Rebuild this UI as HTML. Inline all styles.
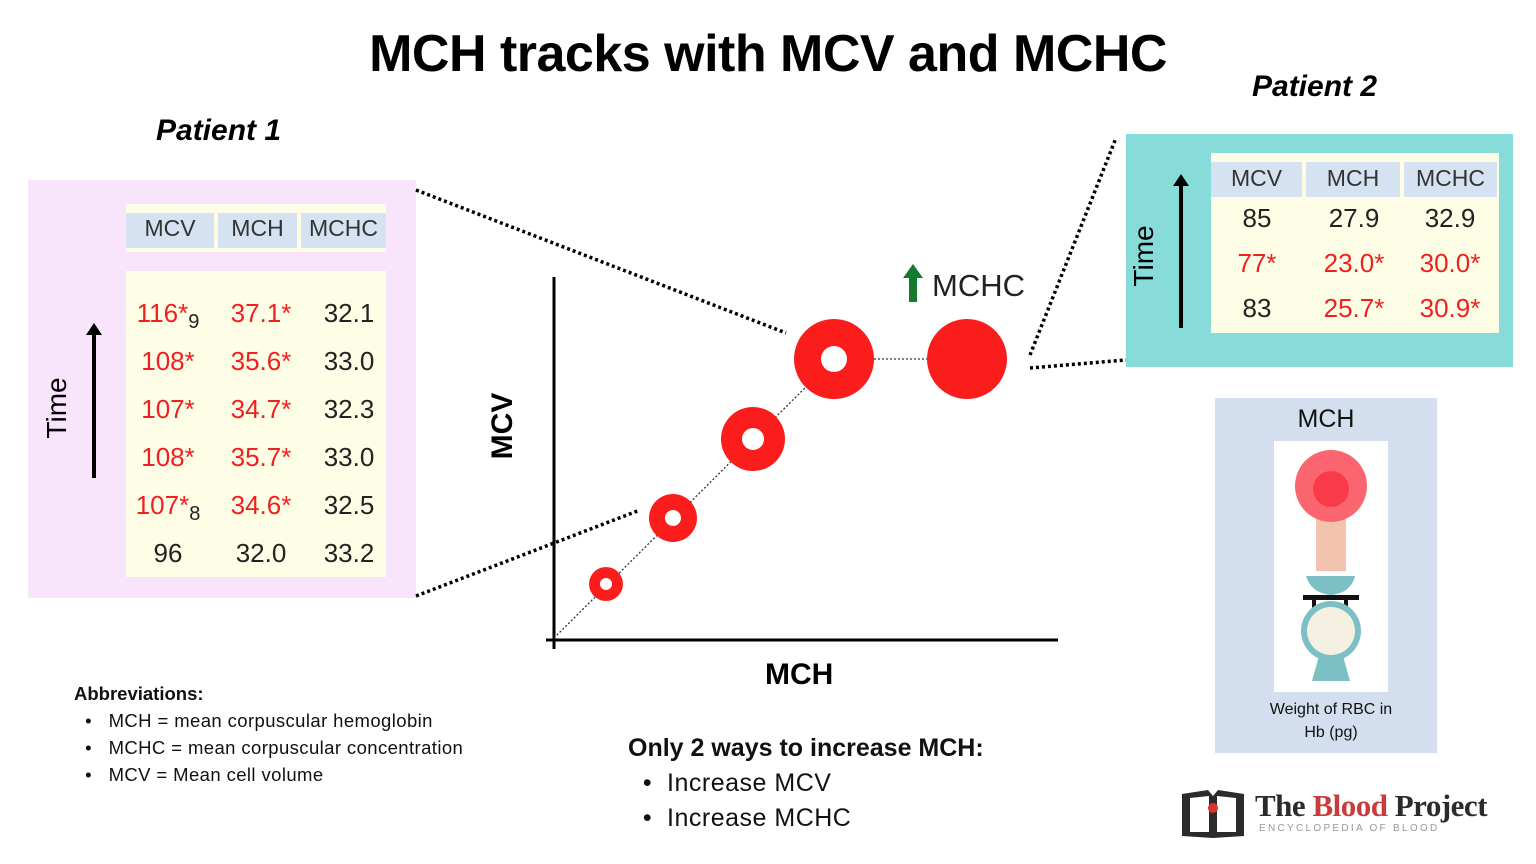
<!DOCTYPE html>
<html><head><meta charset="utf-8"><style>
body{margin:0;width:1536px;height:864px;background:#fff;position:relative;overflow:hidden;font-family:"Liberation Sans",sans-serif}
.a{position:absolute}
.t{position:absolute;font-size:26px;text-align:center;transform:translateX(-50%);white-space:nowrap}
.r{color:#f02020}.k{color:#222}
.h{position:absolute;background:#d5e2f1;font-size:23px;color:#333;text-align:center}
</style></head><body>
<div class="a" style="left:0;width:1536px;top:24px;text-align:center;font-size:52px;font-weight:bold;letter-spacing:-0.5px;">MCH tracks with MCV and MCHC</div>
<div class="a" style="left:156px;top:114px;font-size:30px;font-weight:bold;font-style:italic">Patient 1</div>
<div class="a" style="left:1252px;top:70px;font-size:30px;font-weight:bold;font-style:italic">Patient 2</div>

<div class="a" style="left:28px;top:180px;width:388px;height:418px;background:#f9e5fb"></div>
<div class="a" style="left:126px;top:204px;width:260px;height:48px;background:#fefee6"></div>
<div class="h" style="left:126px;top:213px;width:88px;height:35px;line-height:30px">MCV</div>
<div class="h" style="left:218px;top:213px;width:79px;height:35px;line-height:30px">MCH</div>
<div class="h" style="left:301px;top:213px;width:85px;height:35px;line-height:30px">MCHC</div>
<div class="a" style="left:126px;top:271px;width:260px;height:306px;background:#fefee6"></div>
<div class="a" style="top:408px;font-size:28px;transform:translate(-50%,-50%) rotate(-90deg);left:57px">Time</div>
<div class="a" style="left:92px;top:332px;width:4px;height:146px;background:#000"></div>
<div class="a" style="left:86px;top:323px;width:0;height:0;border-left:8px solid transparent;border-right:8px solid transparent;border-bottom:12px solid #000"></div>

<div class="t r" style="left:168px;top:298px">116*<sub style="color:#222;font-size:20px">9</sub></div>
<div class="t r" style="left:261px;top:298px">37.1*</div><div class="t k" style="left:349px;top:298px">32.1</div>
<div class="t r" style="left:168px;top:346px">108*</div><div class="t r" style="left:261px;top:346px">35.6*</div><div class="t k" style="left:349px;top:346px">33.0</div>
<div class="t r" style="left:168px;top:394px">107*</div><div class="t r" style="left:261px;top:394px">34.7*</div><div class="t k" style="left:349px;top:394px">32.3</div>
<div class="t r" style="left:168px;top:442px">108*</div><div class="t r" style="left:261px;top:442px">35.7*</div><div class="t k" style="left:349px;top:442px">33.0</div>
<div class="t r" style="left:168px;top:490px">107*<sub style="color:#222;font-size:20px">8</sub></div>
<div class="t r" style="left:261px;top:490px">34.6*</div><div class="t k" style="left:349px;top:490px">32.5</div>
<div class="t k" style="left:168px;top:538px">96</div><div class="t k" style="left:261px;top:538px">32.0</div><div class="t k" style="left:349px;top:538px">33.2</div>

<div class="a" style="left:1126px;top:134px;width:387px;height:233px;background:#87dbd8"></div>
<div class="a" style="left:1211px;top:153px;width:288px;height:180px;background:#fefee6"></div>
<div class="h" style="left:1211px;top:162px;width:91px;height:35px;line-height:32px">MCV</div>
<div class="h" style="left:1306px;top:162px;width:94px;height:35px;line-height:32px">MCH</div>
<div class="h" style="left:1404px;top:162px;width:93px;height:35px;line-height:32px">MCHC</div>
<div class="a" style="left:1144px;top:256px;font-size:28px;transform:translate(-50%,-50%) rotate(-90deg)">Time</div>
<div class="a" style="left:1179px;top:184px;width:4px;height:144px;background:#000"></div>
<div class="a" style="left:1173px;top:174px;width:0;height:0;border-left:8px solid transparent;border-right:8px solid transparent;border-bottom:12px solid #000"></div>
<div class="t k" style="left:1257px;top:203px">85</div><div class="t k" style="left:1354px;top:203px">27.9</div><div class="t k" style="left:1450px;top:203px">32.9</div>
<div class="t r" style="left:1257px;top:248px">77*</div><div class="t r" style="left:1354px;top:248px">23.0*</div><div class="t r" style="left:1450px;top:248px">30.0*</div>
<div class="t k" style="left:1257px;top:293px">83</div><div class="t r" style="left:1354px;top:293px">25.7*</div><div class="t r" style="left:1450px;top:293px">30.9*</div>

<svg class="a" style="left:0;top:0" width="1536" height="864">
<g stroke="#000" stroke-width="3.5" stroke-dasharray="3,3" fill="none">
<line x1="416" y1="190" x2="786" y2="333"/><line x1="416" y1="596" x2="640" y2="510"/>
<line x1="1030" y1="355" x2="1116" y2="138"/><line x1="1030" y1="368" x2="1126" y2="360"/>
</g>
<line x1="554" y1="277" x2="554" y2="649" stroke="#000" stroke-width="3"/>
<line x1="546" y1="640" x2="1058" y2="640" stroke="#000" stroke-width="3"/>
<line x1="554" y1="638" x2="834" y2="359" stroke="#333" stroke-width="1.3" stroke-dasharray="2,2"/>
<line x1="874" y1="359" x2="928" y2="359" stroke="#333" stroke-width="1.3" stroke-dasharray="2,2"/>
<circle cx="606" cy="584" r="17" fill="#fb1c1c"/><circle cx="606" cy="584" r="6" fill="#fff"/>
<circle cx="673" cy="518" r="24" fill="#fb1c1c"/><circle cx="673" cy="518" r="8" fill="#fff"/>
<circle cx="753" cy="439" r="32" fill="#fb1c1c"/><circle cx="753" cy="439" r="11" fill="#fff"/>
<circle cx="834" cy="359" r="40" fill="#fb1c1c"/><circle cx="834" cy="359" r="13" fill="#fff"/>
<circle cx="967" cy="359" r="40" fill="#fb1c1c"/>
<polygon points="913,264 903,278 909,278 909,302 917,302 917,278 923,278" fill="#137a2e"/>
</svg>
<div class="a" style="left:932px;top:268px;font-size:31px;color:#222">MCHC</div>
<div class="a" style="left:503px;top:426px;font-size:30px;font-weight:bold;transform:translate(-50%,-50%) rotate(-90deg)">MCV</div>
<div class="a" style="left:765px;top:658px;font-size:30px;font-weight:bold">MCH</div>

<div class="a" style="left:74px;top:680px;font-size:18.5px;line-height:27px;color:#111"><b>Abbreviations:</b>
<div style="letter-spacing:0.4px">&nbsp;&nbsp;•&nbsp;&nbsp;&nbsp;MCH = mean corpuscular hemoglobin</div>
<div style="letter-spacing:0.4px">&nbsp;&nbsp;•&nbsp;&nbsp;&nbsp;MCHC = mean corpuscular concentration</div>
<div style="letter-spacing:0.4px">&nbsp;&nbsp;•&nbsp;&nbsp;&nbsp;MCV = Mean cell volume</div></div>
<div class="a" style="left:628px;top:731px;font-size:25px;line-height:35px;color:#111"><b>Only 2 ways to increase MCH:</b>
<div style="letter-spacing:0.5px">&nbsp;&nbsp;•&nbsp;&nbsp;Increase MCV</div>
<div style="letter-spacing:0.5px">&nbsp;&nbsp;•&nbsp;&nbsp;Increase MCHC</div></div>

<div class="a" style="left:1215px;top:398px;width:222px;height:355px;background:#d3dfee"></div>
<div class="a" style="left:1215px;top:405px;width:222px;text-align:center;font-size:25px;color:#111">MCH</div>
<div class="a" style="left:1274px;top:441px;width:114px;height:251px;background:#fff"></div>
<svg class="a" style="left:1274px;top:441px" width="114" height="251">
<rect x="42" y="78" width="30" height="52" fill="#f3c3b0"/>
<circle cx="57" cy="45" r="36" fill="#fb6570"/><circle cx="57" cy="48" r="18" fill="#f93a48"/>
<path d="M25 135 H74 Q70 152 50 154 Q30 152 25 135Z" fill="#7cc0c5" transform="translate(7,0)"/>
<rect x="29" y="154" width="56" height="5" fill="#111"/><rect x="38" y="158" width="4" height="10" fill="#111"/><rect x="70" y="158" width="4" height="10" fill="#111"/>
<circle cx="57" cy="190" r="30" fill="#7cc0c5"/><circle cx="57" cy="190" r="24" fill="#f4f0e2"/>
<polygon points="45,215 69,215 76,240 38,240" fill="#7cc0c5"/>
</svg>
<div class="a" style="left:1215px;top:698px;width:232px;text-align:center;font-size:16px;line-height:23px;color:#111">Weight of RBC in<br>Hb (pg)</div>

<svg class="a" style="left:1178px;top:788px" width="70" height="52">
<path d="M4 6 L30 2 L35 8 L40 2 L66 6 L66 48 L35 50 L4 48Z" fill="#2b2b2b"/>
<path d="M12 10 L31 8 L31 44 L12 44Z M39 8 L58 10 L58 44 L39 44Z" fill="#fff"/>
<circle cx="35" cy="20" r="5" fill="#d33"/>
</svg>
<div class="a" style="left:1255px;top:788px;font-family:'Liberation Serif',serif;font-weight:bold;font-size:31px;color:#2b2b2b;letter-spacing:-0.5px">The <span style="color:#cc3b3b">Blood</span> Project</div>
<div class="a" style="left:1259px;top:823px;font-size:10px;letter-spacing:2.3px;color:#999">ENCYCLOPEDIA OF BLOOD</div>
</body></html>
